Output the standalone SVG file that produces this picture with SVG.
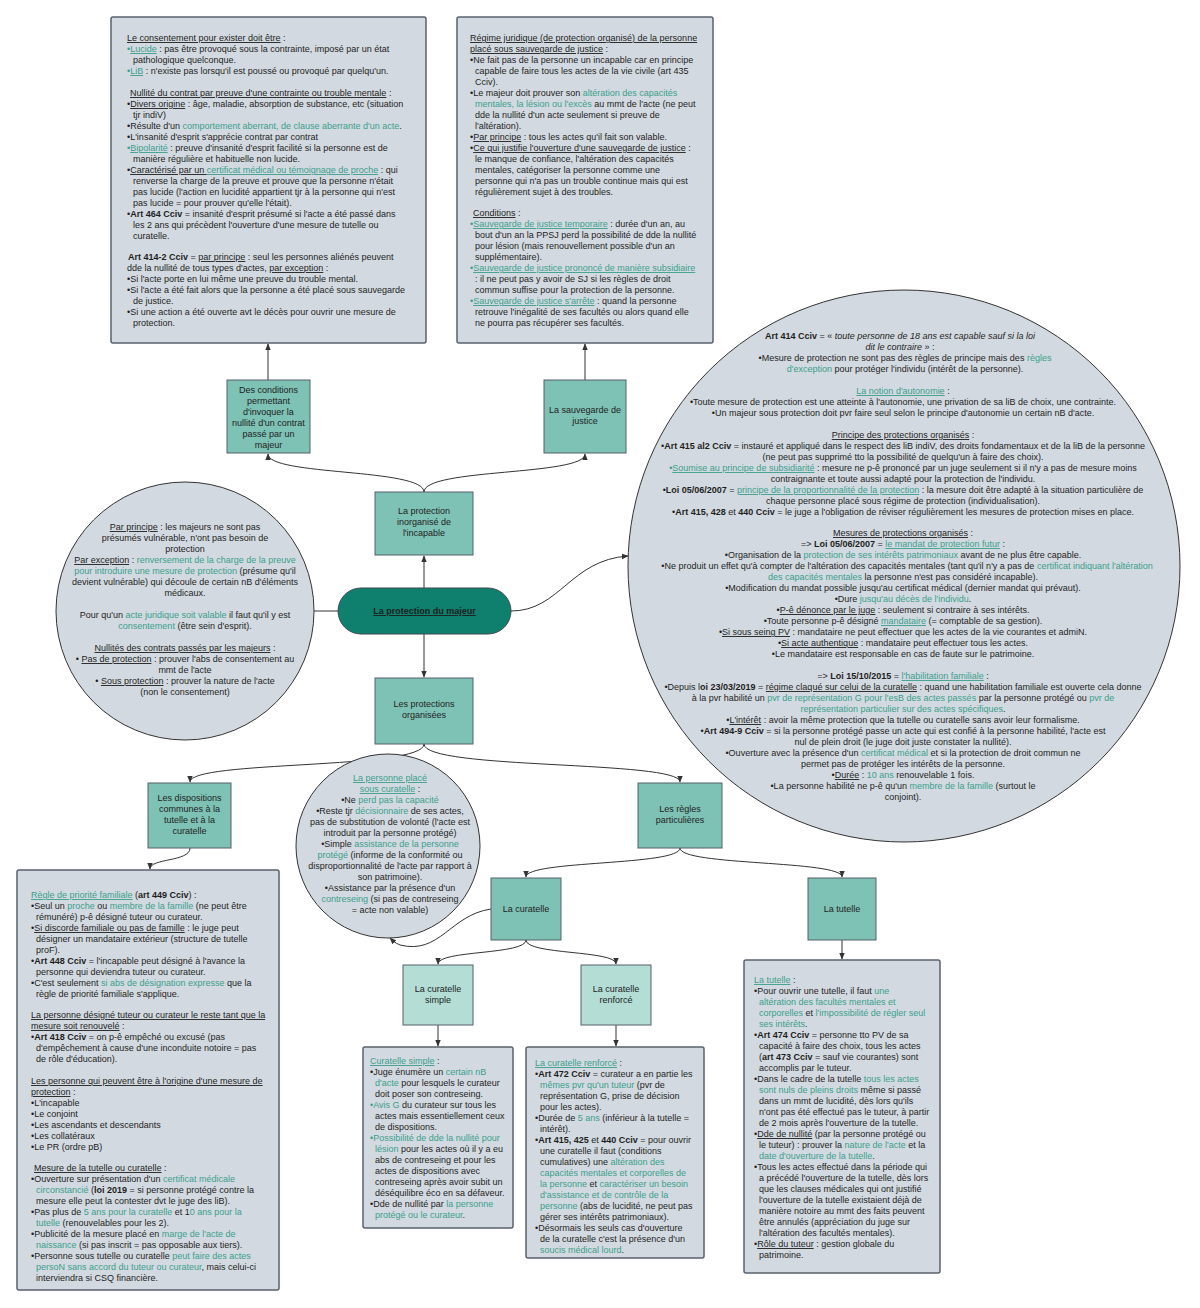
<svg xmlns="http://www.w3.org/2000/svg" width="1200" height="1308" viewBox="0 0 1200 1308">
<style>
.t{font-family:"Liberation Sans",Arial,sans-serif;font-size:9px;fill:#1e1e1e}
.c{text-anchor:middle}
.g{fill:#3a9f8c}
.u{text-decoration:underline}
.b{font-weight:bold}
.i{font-style:italic}
.box{fill:#d3d9e0;stroke:#59626d;stroke-width:1.5}
.node{fill:#7ec1b5;stroke:#55616a;stroke-width:1}
.light{fill:#b3ddd5;stroke:#55616a;stroke-width:1}
.con{fill:none;stroke:#333;stroke-width:1;marker-end:url(#a)}
</style>
<defs>
<marker id="a" viewBox="0 0 10 10" refX="9" refY="5" markerWidth="7" markerHeight="7" orient="auto-start-reverse"><path d="M0,1 L10,5 L0,9 z" fill="#333"/></marker>
</defs>
<rect width="1200" height="1308" fill="#fff"/>

<g id="connectors">
<path class="con" d="M268,380 V344"/>
<path class="con" d="M585,380 V344"/>
<path class="con" d="M424,492 C424,468 268,476 268,454"/>
<path class="con" d="M424,492 C424,468 585,476 585,454"/>
<path class="con" d="M424,588 V556"/>
<path class="con" d="M424,634 V677"/>
<path class="con" d="M511,611 C560,611 570,560 628,556"/>
<path fill="none" stroke="#333" d="M338,611 H314"/>
<path class="con" d="M424,744 C424,770 190,760 190,782"/>
<path class="con" d="M424,744 C424,770 680,760 680,782"/>
<path class="con" d="M190,848 C190,862 150,858 150,869"/>
<path class="con" d="M680,848 C680,866 526,860 526,877"/>
<path class="con" d="M680,848 C680,866 842,860 842,877"/>
<path class="con" d="M491,909 C450,915 440,955 400,945 C395,943 392,940 390,938"/>
<path class="con" d="M526,940 C526,955 438,950 438,964"/>
<path class="con" d="M526,940 C526,955 616,950 616,964"/>
<path class="con" d="M438,1025 V1046"/>
<path class="con" d="M616,1025 V1046"/>
<path class="con" d="M842,940 V959"/>
</g>

<g id="box-consentement">
<rect class="box" x="111" y="17" width="315" height="326" rx="2"/>
<text class="t" x="127" y="41"><tspan class="u">Le consentement pour exister doit être</tspan> :</text>
<text class="t" x="127" y="52"><tspan class="g">•</tspan><tspan class="g u">Lucide</tspan> : pas être provoqué sous la contrainte, imposé par un état</text>
<text class="t" x="133" y="63">pathologique quelconque.</text>
<text class="t" x="127" y="74"><tspan class="g">•</tspan><tspan class="g u">LiB</tspan> : n'existe pas lorsqu'il est poussé ou provoqué par quelqu'un.</text>
<text class="t" x="130" y="96"><tspan class="u">Nullité du contrat par preuve d'une contrainte ou trouble mentale</tspan> :</text>
<text class="t" x="127" y="107">•<tspan class="u">Divers origine</tspan> : âge, maladie, absorption de substance, etc (situation</text>
<text class="t" x="133" y="118">tjr indiV)</text>
<text class="t" x="127" y="129">•Résulte d'un <tspan class="g">comportement aberrant, de clause aberrante d'un acte</tspan>.</text>
<text class="t" x="127" y="140">•L'insanité d'esprit s'apprécie contrat par contrat</text>
<text class="t" x="127" y="151"><tspan class="g">•</tspan><tspan class="g u">Bipolarité</tspan> : preuve d'insanité d'esprit facilité si la personne est de</text>
<text class="t" x="133" y="162">manière régulière et habituelle non lucide.</text>
<text class="t" x="127" y="173">•<tspan class="u">Caractérisé par un </tspan><tspan class="g u">certificat médical ou témoignage de proche</tspan> : qui</text>
<text class="t" x="133" y="184">renverse la charge de la preuve et prouve que la personne n'était</text>
<text class="t" x="133" y="195">pas lucide (l'action en lucidité appartient tjr à la personne qui n'est</text>
<text class="t" x="133" y="206">pas lucide = pour prouver qu'elle l'était).</text>
<text class="t" x="127" y="217">•<tspan class="b">Art 464 Cciv</tspan> = insanité d'esprit présumé si l'acte a été passé dans</text>
<text class="t" x="133" y="228">les 2 ans qui précèdent l'ouverture d'une mesure de tutelle ou</text>
<text class="t" x="133" y="239">curatelle.</text>
<text class="t" x="128" y="260"><tspan class="b">Art 414-2 Cciv</tspan> = <tspan class="u">par principe</tspan> : seul les personnes aliénés peuvent</text>
<text class="t" x="127" y="271">dde la nullité de tous types d'actes, <tspan class="u">par exception</tspan> :</text>
<text class="t" x="127" y="282">•Si l'acte porte en lui même une preuve du trouble mental.</text>
<text class="t" x="127" y="293">•Si l'acte a été fait alors que la personne a été placé sous sauvegarde</text>
<text class="t" x="133" y="304">de justice.</text>
<text class="t" x="127" y="315">•Si une action a été ouverte avt le décès pour ouvrir une mesure de</text>
<text class="t" x="133" y="326">protection.</text>
</g>

<g id="box-sauvegarde">
<rect class="box" x="457" y="17" width="256" height="326" rx="2"/>
<text class="t" x="470" y="41"><tspan class="u">Régime juridique (de protection organisé) de la personne</tspan></text>
<text class="t" x="470" y="52"><tspan class="u">placé sous sauvegarde de justice</tspan> :</text>
<text class="t" x="470" y="63">•Ne fait pas de la personne un incapable car en principe</text>
<text class="t" x="475" y="74">capable de faire tous les actes de la vie civile (art 435</text>
<text class="t" x="475" y="85">Cciv).</text>
<text class="t" x="470" y="96">•Le majeur doit prouver son <tspan class="g">altération des capacités</tspan></text>
<text class="t" x="475" y="107"><tspan class="g">mentales, la lésion ou l'excès</tspan> au mmt de l'acte (ne peut</text>
<text class="t" x="475" y="118">dde la nullité d'un acte seulement si preuve de</text>
<text class="t" x="475" y="129">l'altération).</text>
<text class="t" x="470" y="140">•<tspan class="u">Par principe</tspan> : tous les actes qu'il fait son valable.</text>
<text class="t" x="470" y="151">•<tspan class="u">Ce qui justifie l'ouverture d'une sauvegarde de justice</tspan> :</text>
<text class="t" x="475" y="162">le manque de confiance, l'altération des capacités</text>
<text class="t" x="475" y="173">mentales, catégoriser la personne comme une</text>
<text class="t" x="475" y="184">personne qui n'a pas un trouble continue mais qui est</text>
<text class="t" x="475" y="195">régulièrement sujet à des troubles.</text>
<text class="t" x="473" y="216"><tspan class="u">Conditions</tspan> :</text>
<text class="t" x="470" y="227"><tspan class="g">•</tspan><tspan class="g u">Sauvegarde de justice temporaire</tspan> : durée d'un an, au</text>
<text class="t" x="475" y="238">bout d'un an la PPSJ perd la possibilité de dde la nullité</text>
<text class="t" x="475" y="249">pour lésion (mais renouvellement possible d'un an</text>
<text class="t" x="475" y="260">supplémentaire).</text>
<text class="t" x="470" y="271"><tspan class="g">•</tspan><tspan class="g u">Sauvegarde de justice prononcé de manière subsidiaire</tspan></text>
<text class="t" x="475" y="282">: il ne peut pas y avoir de SJ si les règles de droit</text>
<text class="t" x="475" y="293">commun suffise pour la protection de la personne.</text>
<text class="t" x="470" y="304"><tspan class="g">•</tspan><tspan class="g u">Sauvegarde de justice s'arrête</tspan> : quand la personne</text>
<text class="t" x="475" y="315">retrouve l'inégalité de ses facultés ou alors quand elle</text>
<text class="t" x="475" y="326">ne pourra pas récupérer ses facultés.</text>
</g>

<g id="node-conditions">
<rect class="node" x="227" y="380" width="83" height="73"/>
<text class="t c" x="268.5" y="393">Des conditions</text>
<text class="t c" x="268.5" y="404">permettant</text>
<text class="t c" x="268.5" y="415">d'invoquer la</text>
<text class="t c" x="268.5" y="426">nullité d'un contrat</text>
<text class="t c" x="268.5" y="437">passé par un</text>
<text class="t c" x="268.5" y="448">majeur</text>
</g>
<g id="node-sauvegarde">
<rect class="node" x="544" y="380" width="82" height="73"/>
<text class="t c" x="585" y="413">La sauvegarde de</text>
<text class="t c" x="585" y="424">justice</text>
</g>
<g id="node-inorganise">
<rect class="node" x="375" y="492" width="98" height="63"/>
<text class="t c" x="424" y="514">La protection</text>
<text class="t c" x="424" y="525">inorganisé de</text>
<text class="t c" x="424" y="536">l'incapable</text>
</g>
<g id="node-majeur">
<rect x="338" y="588" width="173" height="46" rx="23" fill="#0e806d" stroke="#3d4a50" stroke-width="1"/>
<text class="t c b u" x="424.5" y="614">La protection du majeur</text>
</g>
<g id="node-organisees">
<rect class="node" x="375" y="678" width="98" height="66"/>
<text class="t c" x="424" y="707">Les protections</text>
<text class="t c" x="424" y="718">organisées</text>
</g>
<g id="node-dispositions">
<rect class="node" x="148" y="783" width="83" height="65"/>
<text class="t c" x="189.5" y="801">Les dispositions</text>
<text class="t c" x="189.5" y="812">communes à la</text>
<text class="t c" x="189.5" y="823">tutelle et à la</text>
<text class="t c" x="189.5" y="834">curatelle</text>
</g>
<g id="node-regles">
<rect class="node" x="638" y="783" width="84" height="65"/>
<text class="t c" x="680" y="812">Les règles</text>
<text class="t c" x="680" y="823">particulières</text>
</g>
<g id="node-curatelle">
<rect class="node" x="491" y="878" width="70" height="62"/>
<text class="t c" x="526" y="912">La curatelle</text>
</g>
<g id="node-tutelle">
<rect class="node" x="808" y="878" width="68" height="62"/>
<text class="t c" x="842" y="912">La tutelle</text>
</g>
<g id="node-simple">
<rect class="light" x="403" y="965" width="70" height="60"/>
<text class="t c" x="438" y="992">La curatelle</text>
<text class="t c" x="438" y="1003">simple</text>
</g>
<g id="node-renforce">
<rect class="light" x="581" y="965" width="70" height="60"/>
<text class="t c" x="616" y="992">La curatelle</text>
<text class="t c" x="616" y="1003">renforcé</text>
</g>

<g id="circle-inorganise">
<circle cx="185" cy="611" r="129" fill="#d3d9e0" stroke="#333" stroke-width="1"/>
<text class="t c" x="185" y="530"><tspan class="u">Par principe</tspan> : les majeurs ne sont pas</text>
<text class="t c" x="185" y="541">présumés vulnérable, n'ont pas besoin de</text>
<text class="t c" x="185" y="552">protection</text>
<text class="t c" x="185" y="563"><tspan class="u">Par exception</tspan> : <tspan class="g">renversement de la charge de la preuve</tspan></text>
<text class="t c" x="185" y="574"><tspan class="g">pour introduire une mesure de protection</tspan> (présume qu'il</text>
<text class="t c" x="185" y="585">devient vulnérable) qui découle de certain nB d'éléments</text>
<text class="t c" x="185" y="596">médicaux.</text>
<text class="t c" x="185" y="618">Pour qu'un <tspan class="g">acte juridique soit valable</tspan> il faut qu'il y est</text>
<text class="t c" x="185" y="629"><tspan class="g">consentement</tspan> (être sein d'esprit).</text>
<text class="t c" x="185" y="651"><tspan class="u">Nullités des contrats passés par les majeurs</tspan> :</text>
<text class="t c" x="185" y="662">• <tspan class="u">Pas de protection</tspan> : prouver l'abs de consentement au</text>
<text class="t c" x="185" y="673">mmt de l'acte</text>
<text class="t c" x="185" y="684">• <tspan class="u">Sous protection</tspan> : prouver la nature de l'acte</text>
<text class="t c" x="185" y="695">(non le consentement)</text>
</g>

<g id="circle-organisees">
<circle cx="904" cy="566" r="276" fill="#d3d9e0" stroke="#333" stroke-width="1"/>
<text class="t c" x="900" y="339"><tspan class="b">Art 414 Cciv</tspan> = « <tspan class="i">toute personne de 18 ans est capable sauf si la loi</tspan></text>
<text class="t c" x="900" y="350"><tspan class="i">dit le contraire</tspan> » :</text>
<text class="t c" x="905" y="361">•Mesure de protection ne sont pas des règles de principe mais des <tspan class="g">règles</tspan></text>
<text class="t c" x="905" y="372"><tspan class="g">d'exception</tspan> pour protéger l'individu (intérêt de la personne).</text>
<text class="t c" x="903" y="394"><tspan class="g u">La notion d'autonomie</tspan> :</text>
<text class="t c" x="903" y="405">•Toute mesure de protection est une atteinte à l'autonomie, une privation de sa liB de choix, une contrainte.</text>
<text class="t c" x="903" y="416">•Un majeur sous protection doit pvr faire seul selon le principe d'autonomie un certain nB d'acte.</text>
<text class="t c" x="903" y="438"><tspan class="u">Principe des protections organisés</tspan> :</text>
<text class="t c" x="903" y="449">•<tspan class="b">Art 415 al2 Cciv</tspan> = instauré et appliqué dans le respect des liB indiV, des droits fondamentaux et de la liB de la personne</text>
<text class="t c" x="903" y="460">(ne peut pas supprimé tto la possibilité de quelqu'un à faire des choix).</text>
<text class="t c" x="903" y="471"><tspan class="g">•</tspan><tspan class="g u">Soumise au principe de subsidiarité</tspan> : mesure ne p-ê prononcé par un juge seulement si il n'y a pas de mesure moins</text>
<text class="t c" x="903" y="482">contraignante et toute aussi adapté pour la protection de l'individu.</text>
<text class="t c" x="903" y="493">•<tspan class="b">Loi 05/06/2007</tspan> = <tspan class="g u">principe de la proportionnalité de la protection</tspan> : la mesure doit être adapté à la situation particulière de</text>
<text class="t c" x="903" y="504">chaque personne placé sous régime de protection (individualisation).</text>
<text class="t c" x="903" y="515">•<tspan class="b">Art 415, 428</tspan> et <tspan class="b">440 Cciv</tspan> = le juge a l'obligation de réviser régulièrement les mesures de protection mises en place.</text>
<text class="t c" x="903" y="536"><tspan class="u">Mesures de protections organisés</tspan> :</text>
<text class="t c" x="903" y="547">=&gt; <tspan class="b">Loi 05/06/2007</tspan> = <tspan class="g u">le mandat de protection futur</tspan> :</text>
<text class="t c" x="903" y="558">•Organisation de la <tspan class="g">protection de ses intérêts patrimoniaux</tspan> avant de ne plus être capable.</text>
<text class="t c" x="907" y="569">•Ne produit un effet qu'à compter de l'altération des capacités mentales (tant qu'il n'y a pas de <tspan class="g">certificat indiquant l'altération</tspan></text>
<text class="t c" x="903" y="580"><tspan class="g">des capacités mentales</tspan> la personne n'est pas considéré incapable).</text>
<text class="t c" x="903" y="591">•Modification du mandat possible jusqu'au certificat médical (dernier mandat qui prévaut).</text>
<text class="t c" x="903" y="602">•Dure <tspan class="g">jusqu'au décès de l'individu</tspan>.</text>
<text class="t c" x="903" y="613">•<tspan class="u">P-ê dénonce par le juge</tspan> : seulement si contraire à ses intérêts.</text>
<text class="t c" x="903" y="624">•Toute personne p-ê désigné <tspan class="g u">mandataire</tspan> (= comptable de sa gestion).</text>
<text class="t c" x="903" y="635">•<tspan class="u">Si sous seing PV</tspan> : mandataire ne peut effectuer que les actes de la vie courantes et admiN.</text>
<text class="t c" x="903" y="646">•<tspan class="u">Si acte authentique</tspan> : mandataire peut effectuer tous les actes.</text>
<text class="t c" x="903" y="657">•Le mandataire est responsable en cas de faute sur le patrimoine.</text>
<text class="t c" x="903" y="679">=&gt; <tspan class="b">Loi 15/10/2015</tspan> = <tspan class="g u">l'habilitation familiale</tspan> :</text>
<text class="t c" x="903" y="690">•Depuis l<tspan class="b">oi 23/03/2019</tspan> = <tspan class="u">régime claqué sur celui de la curatelle</tspan> : quand une habilitation familiale est ouverte cela donne</text>
<text class="t c" x="903" y="701">à la pvr habilité un <tspan class="g">pvr de représentation G pour l'esB des actes passés</tspan> par la personne protégé ou <tspan class="g">pvr de</tspan></text>
<text class="t c" x="903" y="712"><tspan class="g">représentation particulier sur des actes spécifiques</tspan>.</text>
<text class="t c" x="903" y="723">•<tspan class="u">L'intérêt</tspan> : avoir la même protection que la tutelle ou curatelle sans avoir leur formalisme.</text>
<text class="t c" x="903" y="734">•<tspan class="b">Art 494-9 Cciv</tspan> = si la personne protégé passe un acte qui est confié à la personne habilité, l'acte est</text>
<text class="t c" x="903" y="745">nul de plein droit (le juge doit juste constater la nullité).</text>
<text class="t c" x="903" y="756">•Ouverture avec la présence d'un <tspan class="g">certificat médical</tspan> et si la protection de droit commun ne</text>
<text class="t c" x="903" y="767">permet pas de protéger les intérêts de la personne.</text>
<text class="t c" x="903" y="778">•<tspan class="u">Durée</tspan> : <tspan class="g">10 ans</tspan> renouvelable 1 fois.</text>
<text class="t c" x="903" y="789">•La personne habilité ne p-ê qu'un <tspan class="g">membre de la famille</tspan> (surtout le</text>
<text class="t c" x="903" y="800">conjoint).</text>
</g>

<g id="circle-curatelle">
<circle cx="388" cy="846" r="92" fill="#d3d9e0" stroke="#333" stroke-width="1"/>
<text class="t c" x="390" y="781"><tspan class="g u">La personne placé</tspan></text>
<text class="t c" x="390" y="792"><tspan class="g u">sous curatelle</tspan> :</text>
<text class="t c" x="390" y="803">•Ne <tspan class="g">perd pas la capacité</tspan></text>
<text class="t c" x="390" y="814">•Reste tjr <tspan class="g">décisionnaire</tspan> de ses actes,</text>
<text class="t c" x="390" y="825">pas de substitution de volonté (l'acte est</text>
<text class="t c" x="390" y="836">introduit par la personne protégé)</text>
<text class="t c" x="390" y="847">•Simple <tspan class="g">assistance de la personne</tspan></text>
<text class="t c" x="390" y="858"><tspan class="g">protégé</tspan> (informe de la conformité ou</text>
<text class="t c" x="390" y="869">disproportionnalité de l'acte par rapport à</text>
<text class="t c" x="390" y="880">son patrimoine).</text>
<text class="t c" x="390" y="891">•Assistance par la présence d'un</text>
<text class="t c" x="390" y="902"><tspan class="g">contreseing</tspan> (si pas de contreseing</text>
<text class="t c" x="390" y="913">= acte non valable)</text>
</g>

<g id="box-dispositions">
<rect class="box" x="17" y="870" width="262" height="420" rx="2"/>
<text class="t" x="31" y="898"><tspan class="g u">Règle de priorité familiale</tspan> (<tspan class="b">art 449 Cciv</tspan>) :</text>
<text class="t" x="31" y="909">•Seul un <tspan class="g">proche</tspan> ou <tspan class="g">membre de la famille</tspan> (ne peut être</text>
<text class="t" x="36" y="920">rémunéré) p-ê désigné tuteur ou curateur.</text>
<text class="t" x="31" y="931">•<tspan class="u">Si discorde familiale ou pas de famille</tspan> : le juge peut</text>
<text class="t" x="36" y="942">désigner un mandataire extérieur (structure de tutelle</text>
<text class="t" x="36" y="953">proF).</text>
<text class="t" x="31" y="964">•<tspan class="b">Art 448 Cciv</tspan> = l'incapable peut désigné à l'avance la</text>
<text class="t" x="36" y="975">personne qui deviendra tuteur ou curateur.</text>
<text class="t" x="31" y="986">•C'est seulement <tspan class="g">si abs de désignation expresse</tspan> que la</text>
<text class="t" x="36" y="997">règle de priorité familiale s'applique.</text>
<text class="t" x="31" y="1018"><tspan class="u">La personne désigné tuteur ou curateur le reste tant que la</tspan></text>
<text class="t" x="31" y="1029"><tspan class="u">mesure soit renouvelé</tspan> :</text>
<text class="t" x="31" y="1040">•<tspan class="b">Art 418 Cciv</tspan> = on p-ê empêché ou excusé (pas</text>
<text class="t" x="36" y="1051">d'empêchement à cause d'une inconduite notoire = pas</text>
<text class="t" x="36" y="1062">de rôle d'éducation).</text>
<text class="t" x="31" y="1084"><tspan class="u">Les personne qui peuvent être à l'origine d'une mesure de</tspan></text>
<text class="t" x="31" y="1095"><tspan class="u">protection</tspan> :</text>
<text class="t" x="31" y="1106">•L'incapable</text>
<text class="t" x="31" y="1117">•Le conjoint</text>
<text class="t" x="31" y="1128">•Les ascendants et descendants</text>
<text class="t" x="31" y="1139">•Les collatéraux</text>
<text class="t" x="31" y="1150">•Le PR (ordre pB)</text>
<text class="t" x="34" y="1171"><tspan class="u">Mesure de la tutelle ou curatelle</tspan> :</text>
<text class="t" x="31" y="1182">•Ouverture sur présentation d'un <tspan class="g">certificat médicale</tspan></text>
<text class="t" x="36" y="1193"><tspan class="g">circonstancié</tspan> (<tspan class="b">loi 2019</tspan> = si personne protégé contre la</text>
<text class="t" x="36" y="1204">mesure elle peut la contester dvt le juge des liB).</text>
<text class="t" x="31" y="1215">•Pas plus de <tspan class="g">5 ans pour la curatelle</tspan> et 1<tspan class="g">0 ans pour la</tspan></text>
<text class="t" x="36" y="1226"><tspan class="g">tutelle</tspan> (renouvelables pour les 2).</text>
<text class="t" x="31" y="1237">•Publicité de la mesure placé en <tspan class="g">marge de l'acte de</tspan></text>
<text class="t" x="36" y="1248"><tspan class="g">naissance</tspan> (si pas inscrit = pas opposable aux tiers).</text>
<text class="t" x="31" y="1259">•Personne sous tutelle ou curatelle <tspan class="g">peut faire des actes</tspan></text>
<text class="t" x="36" y="1270"><tspan class="g">persoN sans accord du tuteur ou curateur</tspan>, mais celui-ci</text>
<text class="t" x="36" y="1281">interviendra si CSQ financière.</text>
</g>

<g id="box-simple">
<rect class="box" x="363" y="1047" width="150" height="181" rx="2"/>
<text class="t" x="370" y="1064"><tspan class="g u">Curatelle simple</tspan> :</text>
<text class="t" x="370" y="1075">•Juge énumère un <tspan class="g">certain nB</tspan></text>
<text class="t" x="375" y="1086"><tspan class="g">d'acte</tspan> pour lesquels le curateur</text>
<text class="t" x="375" y="1097">doit poser son contreseing.</text>
<text class="t" x="370" y="1108"><tspan class="g">•Avis G</tspan> du curateur sur tous les</text>
<text class="t" x="375" y="1119">actes mais essentiellement ceux</text>
<text class="t" x="375" y="1130">de dispositions.</text>
<text class="t" x="370" y="1141"><tspan class="g">•Possibilité de dde la nullité pour</tspan></text>
<text class="t" x="375" y="1152"><tspan class="g">lésion</tspan> pour les actes où il y a eu</text>
<text class="t" x="375" y="1163">abs de contreseing et pour les</text>
<text class="t" x="375" y="1174">actes de dispositions avec</text>
<text class="t" x="375" y="1185">contreseing après avoir subit un</text>
<text class="t" x="375" y="1196">déséquilibre éco en sa défaveur.</text>
<text class="t" x="370" y="1207">•Dde de nullité par <tspan class="g">la personne</tspan></text>
<text class="t" x="375" y="1218"><tspan class="g">protégé ou le curateur</tspan>.</text>
</g>

<g id="box-renforce">
<rect class="box" x="526" y="1047" width="178" height="211" rx="2"/>
<text class="t" x="535" y="1066"><tspan class="g u">La curatelle renforcé</tspan> :</text>
<text class="t" x="535" y="1077">•<tspan class="b">Art 472 Cciv</tspan> = curateur a en partie les</text>
<text class="t" x="540" y="1088"><tspan class="g">mêmes pvr qu'un tuteur</tspan> (pvr de</text>
<text class="t" x="540" y="1099">représentation G, prise de décision</text>
<text class="t" x="540" y="1110">pour les actes).</text>
<text class="t" x="535" y="1121">•Durée de <tspan class="g">5 ans</tspan> (inférieur à la tutelle =</text>
<text class="t" x="540" y="1132">intérêt).</text>
<text class="t" x="535" y="1143">•<tspan class="b">Art 415, 425</tspan> et <tspan class="b">440 Cciv</tspan> = pour ouvrir</text>
<text class="t" x="540" y="1154">une curatelle il faut (conditions</text>
<text class="t" x="540" y="1165">cumulatives) une <tspan class="g">altération des</tspan></text>
<text class="t" x="540" y="1176"><tspan class="g">capacités mentales et corporelles de</tspan></text>
<text class="t" x="540" y="1187"><tspan class="g">la personne</tspan> et <tspan class="g">caractériser un besoin</tspan></text>
<text class="t" x="540" y="1198"><tspan class="g">d'assistance et de contrôle de la</tspan></text>
<text class="t" x="540" y="1209"><tspan class="g">personne</tspan> (abs de lucidité, ne peut pas</text>
<text class="t" x="540" y="1220">gérer ses intérêts patrimoniaux).</text>
<text class="t" x="535" y="1231">•Désormais les seuls cas d'ouverture</text>
<text class="t" x="540" y="1242">de la curatelle c'est la présence d'un</text>
<text class="t" x="540" y="1253"><tspan class="g">soucis médical lourd</tspan>.</text>
</g>

<g id="box-tutelle">
<rect class="box" x="744" y="960" width="196" height="313" rx="2"/>
<text class="t" x="754" y="983"><tspan class="g u">La tutelle</tspan> :</text>
<text class="t" x="754" y="994">•Pour ouvrir une tutelle, il faut <tspan class="g">une</tspan></text>
<text class="t" x="759" y="1005"><tspan class="g">altération des facultés mentales et</tspan></text>
<text class="t" x="759" y="1016"><tspan class="g">corporelles</tspan> et <tspan class="g">l'impossibilité de régler seul</tspan></text>
<text class="t" x="759" y="1027"><tspan class="g">ses intérêts</tspan>.</text>
<text class="t" x="754" y="1038">•<tspan class="b">Art 474 Cciv</tspan> = personne tto PV de sa</text>
<text class="t" x="759" y="1049">capacité à faire des choix, tous les actes</text>
<text class="t" x="759" y="1060">(<tspan class="b">art 473 Cciv</tspan> = sauf vie courantes) sont</text>
<text class="t" x="759" y="1071">accomplis par le tuteur.</text>
<text class="t" x="754" y="1082">•Dans le cadre de la tutelle <tspan class="g">tous les actes</tspan></text>
<text class="t" x="759" y="1093"><tspan class="g">sont nuls de pleins droits</tspan> même si passé</text>
<text class="t" x="759" y="1104">dans un mmt de lucidité, dès lors qu'ils</text>
<text class="t" x="759" y="1115">n'ont pas été effectué pas le tuteur, à partir</text>
<text class="t" x="759" y="1126">de 2 mois après l'ouverture de la tutelle.</text>
<text class="t" x="754" y="1137">•<tspan class="u">Dde de nullité</tspan> (par la personne protégé ou</text>
<text class="t" x="759" y="1148">le tuteur) : prouver la <tspan class="g">nature de l'acte</tspan> et la</text>
<text class="t" x="759" y="1159"><tspan class="g">date d'ouverture de la tutelle</tspan>.</text>
<text class="t" x="754" y="1170">•Tous les actes effectué dans la période qui</text>
<text class="t" x="759" y="1181">a précédé l'ouverture de la tutelle, dès lors</text>
<text class="t" x="759" y="1192">que les clauses médicales qui ont justifié</text>
<text class="t" x="759" y="1203">l'ouverture de la tutelle existaient déjà de</text>
<text class="t" x="759" y="1214">manière notoire au mmt des faits peuvent</text>
<text class="t" x="759" y="1225">être annulés (appréciation du juge sur</text>
<text class="t" x="759" y="1236">l'altération des facultés mentales).</text>
<text class="t" x="754" y="1247">•<tspan class="u">Rôle du tuteur</tspan> : gestion globale du</text>
<text class="t" x="759" y="1258">patrimoine.</text>
</g>
</svg>
